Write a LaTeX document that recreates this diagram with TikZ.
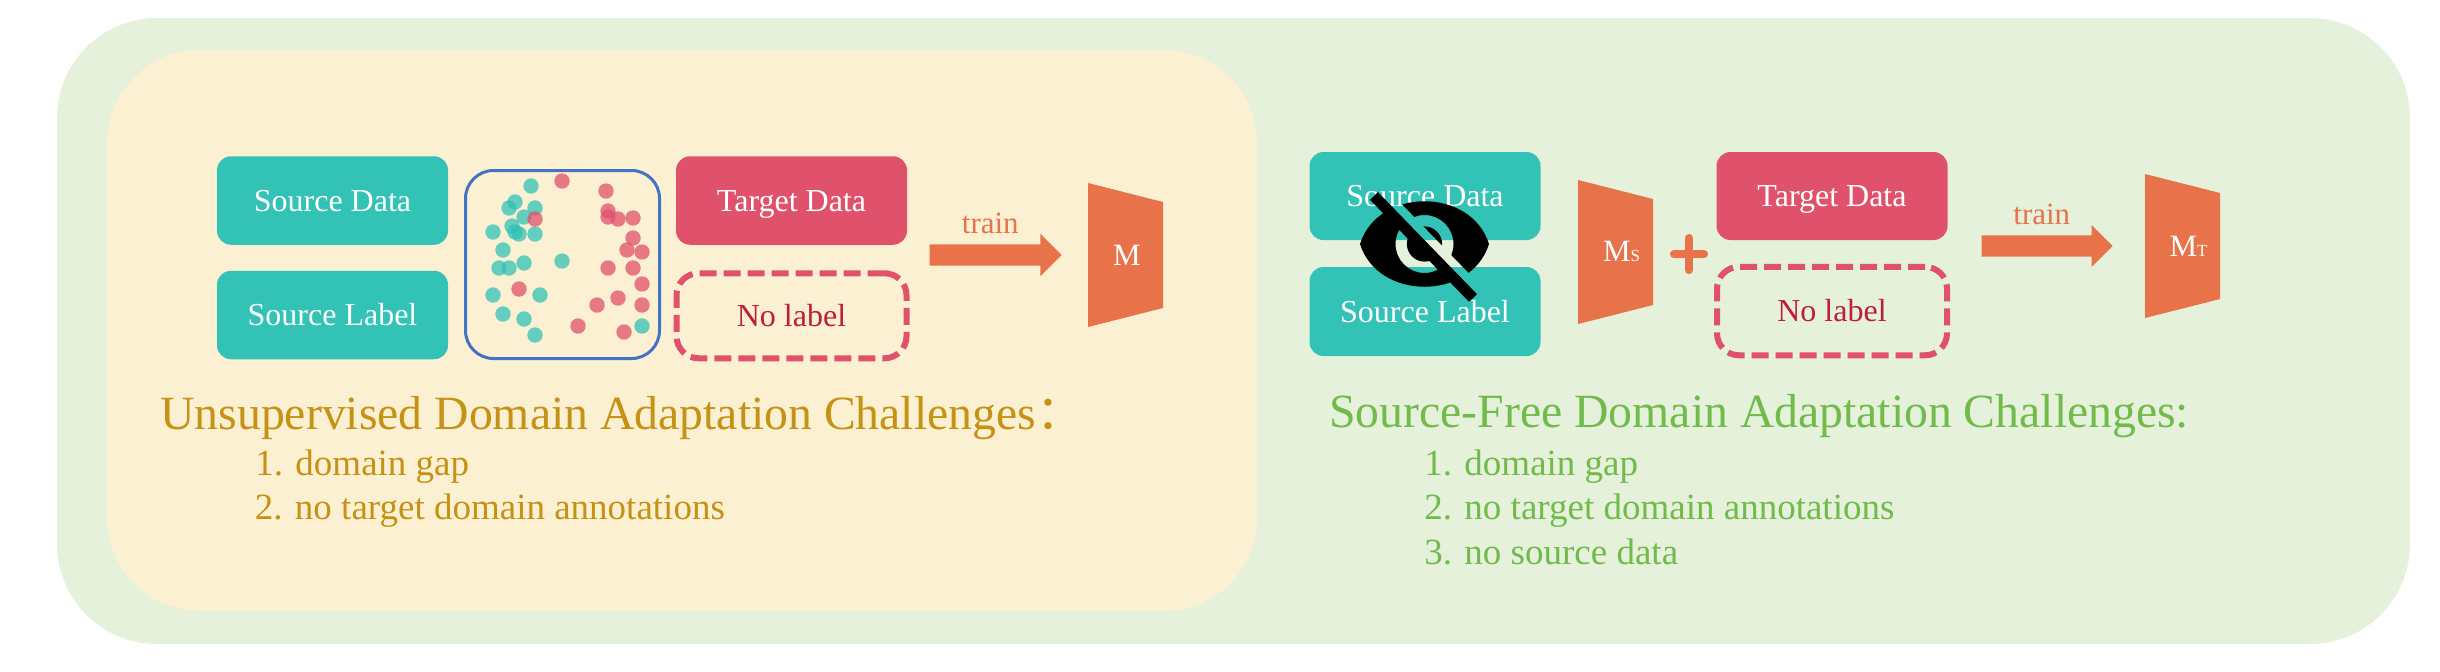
\documentclass[tikz,border=0pt]{standalone}
\usepackage{fontspec}
\setmainfont{Liberation Serif}
\newfontfamily\cjk{Noto Sans CJK SC}
\usetikzlibrary{positioning, shapes.arrows}
\definecolor{panelgreen}{HTML}{E5F1DA}
\definecolor{panelyellow}{HTML}{FCF0D3}
\definecolor{srcteal}{HTML}{32C2B6}
\definecolor{tgtred}{HTML}{E0526C}
\definecolor{nolabelred}{HTML}{BE1E3C}
\definecolor{trainorange}{HTML}{E8734A}
\definecolor{blueline}{HTML}{4472C4}
\definecolor{titlegold}{HTML}{C59213}
\definecolor{titlegreen}{HTML}{71BB4A}

\begin{document}
\begin{tikzpicture}[x=0.5pt,y=-0.5pt,
	boxtext/.style={font=\fontsize{16pt}{18pt}\selectfont, text height=10.5pt, text depth=0pt, inner sep=0pt, outer sep=0pt},
	databox/.style={boxtext, rectangle, rounded corners=7pt, minimum width=115.5pt, minimum height=44.25pt, text=white},
	srcbox/.style={databox, fill=srcteal},
	tgtbox/.style={databox, fill=tgtred},
	nolabelbox/.style={boxtext, rectangle, draw=tgtred, line width=3pt, rounded corners=11pt, dash pattern=on 8.5pt off 3.5pt, minimum width=115pt, minimum height=42.5pt, text=nolabelred},
	trainarrow/.style={single arrow, fill=trainorange, inner sep=5.125pt, outer sep=0pt, minimum width=21pt, minimum height=66pt, single arrow head extend=5.25pt},
	trainlabel/.style={font=\fontsize{15.5pt}{18pt}\selectfont, text=trainorange, inner sep=0pt, text depth=0pt},
	modelshape/.style={fill=trainorange},
	modellabel/.style={font=\fontsize{15.5pt}{18pt}\selectfont, text=white, inner sep=0pt, anchor=base},
	titletext/.style={font=\fontsize{23.85pt}{28pt}\selectfont, inner sep=0pt, anchor=base west},
	listtext/.style={font=\fontsize{18.5pt}{22pt}\selectfont, inner sep=0pt, anchor=base west},
	tealdot/.style={fill=srcteal, fill opacity=.75},
	reddot/.style={fill=tgtred, fill opacity=.75}]

	\useasboundingbox (0,0) rectangle (2440,671);

	\fill[panelgreen, rounded corners=50pt] (57,18) rectangle (2410,644);
	\fill[panelyellow, rounded corners=46.5pt] (107,50) rectangle (1257,611);

	\node[srcbox							] (sdataA)		at (332.5,200.5)	{Source Data};
	\node[srcbox, below=13pt of sdataA		] (slabelA)							{Source Label};
	\node[tgtbox, right=114pt of sdataA		] (tdataA)							{Target Data};
	\node[nolabelbox, below=14.25pt of tdataA] (nolabelA)						{No label};

	\node[rectangle, draw=blueline, line width=1.5pt, rounded corners=14pt, minimum width=97pt, minimum height=94pt, inner sep=0pt] (scatterA) at (562.5,264.5) {};
	\begin{scope}[shift={(460,160)}]
		\foreach \x/\y in {71/26,55/42,49/48,75/48,64/57,52/66,55/72,59/74,75/74,33/72,43/90,39/108,49/108,64/103,102/101,33/135,80/135,43/154,64/159,75/175,182/166}
			\fill[tealdot] (\x,\y) circle (3.85pt);
		\foreach \x/\y in {102/21,146/31,148/51,148/57,158/59,173/58,75/59,173/78,167/90,182/92,148/108,173/108,182/124,59/129,158/138,137/145,182/145,118/166,164/172}
			\fill[reddot] (\x,\y) circle (3.85pt);
	\end{scope}

	\node[trainarrow						] (arrowA)		at (990.3,255)		{};
	\node[trainlabel, above=5pt of arrowA	] (trainA)							{train};

	\node[srcbox, minimum height=44pt		] (sdataB)		at (1425,196)		{Source Data};
	\node[srcbox, minimum height=44.5pt, below=13.5pt of sdataB] (slabelB)		{Source Label};
	\node[tgtbox, minimum height=44pt, right=88pt of sdataB] (tdataB)			{Target Data};
	\node[nolabelbox, minimum height=44.25pt, below=13.4pt of tdataB] (nolabelB) {No label};

	\node[trainarrow, minimum height=65.5pt	] (arrowB)		at (2041.8,246)		{};
	\node[trainlabel, above=5pt of arrowB	] (trainB)							{train};

	\foreach \x/\y in {1088/183,1578/180,2145/174}
		\fill[modelshape] (\x,\y) -- ++(75,19) -- ++(0,106) -- ++(-75,19) -- cycle;
	\node[modellabel] (modelA) at (1127,265) {M};
	\node[modellabel] (modelS) at (1621.5,261) {M{\fontsize{8.5pt}{10pt}\selectfont S}};
	\node[modellabel] (modelT) at (2188.5,256) {M{\fontsize{8.5pt}{10pt}\selectfont T}};

	\draw[trainorange, line width=4pt, line cap=round] (1674,254) -- (1704,254) (1689,238) -- (1689,270);

	\coordinate (eyeL) at (1360,244);
	\coordinate (eyeR) at (1489,244);
	\coordinate (eyeC) at (1424.5,244);
	\coordinate (slashA) at (1374,196);
	\coordinate (slashB) at (1473,298);
	\begin{scope}
		\clip (1295,94) -- (1592,400) -- (1700,300) -- (1500,50) -- cycle
			(1275,94) -- (1572,400) -- (1300,400) -- (1200,150) -- cycle;
		\fill[black, even odd rule] (eyeL) .. controls (1378,187) and (1471,187) .. (eyeR) .. controls (1471,301) and (1378,301) .. (eyeL) -- cycle
			(eyeC) circle (14.5pt) (eyeC) circle (8.8pt);
	\end{scope}
	\draw[black, line width=5.5pt] (slashA) -- (slashB);

	\node[titletext, text=titlegold] (titleA) at (160,429) {Unsupervised Domain Adaptation Challenges{\cjk ：}};
	\node[listtext, text=titlegold] (gapA)	at (255,475) {1. domain gap};
	\node[listtext, text=titlegold] (annoA)	at (254.5,519) {2. no target domain annotations};

	\node[titletext, text=titlegreen] (titleB) at (1329,427) {Source-Free Domain Adaptation Challenges:};
	\node[listtext, text=titlegreen] (gapB)	at (1424,475) {1. domain gap};
	\node[listtext, text=titlegreen] (annoB)	at (1424,519) {2. no target domain annotations};
	\node[listtext, text=titlegreen] (noneB) at (1424,564) {3. no source data};

\end{tikzpicture}
\end{document}
